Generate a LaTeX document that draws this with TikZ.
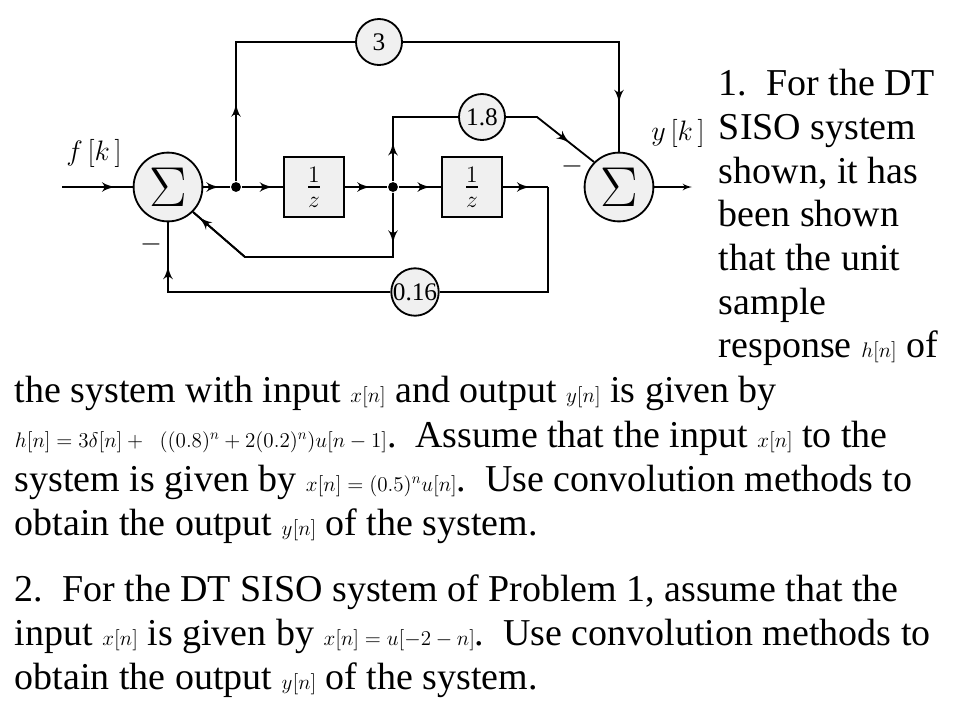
\RequirePackage{fix-cm}
\documentclass[tikz,border=0pt]{standalone}
\usepackage{amsmath}
\usepackage{fontspec}
\setmainfont{Liberation Serif}
\usetikzlibrary{arrows,positioning,calc,decorations.markings}
\newcommand{\sm}[1]{{\fontsize{15pt}{15pt}\selectfont$#1$}}
\tikzset{
sum/.style   = {draw, fill=gray!12, circle, minimum size=1.72cm, inner sep=0pt, font=\fontsize{40pt}{40pt}\selectfont},
block/.style = {draw, fill=gray!12, rectangle, minimum size=1.5cm, font=\fontsize{24pt}{24pt}\selectfont},
gain/.style  = {draw, fill=gray!12, circle, minimum size=1.15cm, inner sep=0pt, font=\fontsize{18pt}{18pt}\selectfont},
tmp/.style   = {coordinate},
dot/.style   = {circle, fill=black, inner sep=0pt, minimum size=7pt},
mid/.style   = {postaction={decorate}, decoration={markings, mark=at position #1 with {\arrow[scale=1.4]{latex'}}}},
lbl/.style   = {font=\fontsize{20pt}{20pt}\selectfont},
txt/.style   = {anchor=base west, inner sep=0pt, font=\fontsize{27pt}{27pt}\selectfont}
}
\begin{document}
\begin{tikzpicture}[x=0.025cm, y=-0.025cm, >=latex', line width=1.3pt]
  \useasboundingbox (0,0) rectangle (979,713);
  % diagram
  \node [tmp]                 (in)    at (62,187)  {};
  \node [sum]                 (sum1)  at (168,187) {$\Sigma$};
  \node [dot]                 (j1)    at (236,187) {};
  \node [block]               (blk1)  at (314,187) {$\frac{1}{z}$};
  \node [dot]                 (j2)    at (393,187) {};
  \node [block]               (blk2)  at (472,187) {$\frac{1}{z}$};
  \node [tmp]                 (tmp1)  at (548,187) {};
  \node [sum]                 (sum2)  at (619,187) {$\Sigma$};
  \node [tmp]                 (out)   at (692,187) {};
  \node [tmp]                 (tmp2)  at (236,42)  {};
  \node [gain]                (g3)    at (379,42)  {3};
  \node [tmp]                 (tmp3)  at (619,42)  {};
  \node [tmp]                 (tmp4)  at (393,117) {};
  \node [gain]                (g18)   at (482,117) {1.8};
  \node [tmp]                 (tmp5)  at (537,117) {};
  \node [tmp]                 (tmp6)  at (393,257) {};
  \node [tmp]                 (tmp7)  at (245,257) {};
  \node [tmp]                 (tmp8)  at (548,292) {};
  \node [gain]                (g016)  at (415,292) {0.16};
  \node [tmp]                 (tmp9)  at (168,292) {};

  \draw [mid=0.75] (in) -- (sum1);
  \draw [mid=0.6] (sum1) -- (j1);
  \draw [mid=0.75] (j1) -- (blk1);
  \draw [mid=0.6] (blk1) -- (j2);
  \draw [mid=0.75] (j2) -- (blk2);
  \draw [mid=0.6] (blk2) -- (tmp1);
  \draw [-{latex'[scale=1.4]}] (sum2) -- (out);
  \draw [mid=0.3] (j1) -- (tmp2) -- (g3);
  \draw [mid=0.85] (g3) -- (tmp3) -- (sum2);
  \draw [mid=0.3] (j2) -- (tmp4) -- (g18);
  \draw [mid=0.7] (g18) -- (tmp5) -- (sum2.135);
  \draw [mid=0.18] (j2) -- (tmp6) -- (tmp7) -- (sum1.-45);
  \draw [mid=0.88] (tmp7) -- (sum1.-45);
  \draw (tmp1) -- (tmp8) -- (g016);
  \draw [mid=0.85] (g016) -- (tmp9) -- (sum1);
  \node [lbl] (fk) at (94,153) {$f\,[k\,]$};
  \node [lbl] (yk) at (678,133) {$y\,[k\,]$};
  \node [lbl] (m1) at (151,244) {$-$};
  \node [lbl] (m2) at (572,166) {$-$};

  % text
  \node [txt] (l1)  at (718,95)  {1.\enspace For the DT};
  \node [txt] (l2)  at (718,139) {SISO system};
  \node [txt] (l3)  at (718,183) {shown, it has};
  \node [txt] (l4)  at (718,226) {been shown};
  \node [txt] (l5)  at (718,270) {that the unit};
  \node [txt] (l6)  at (718,314) {sample};
  \node [txt] (l7)  at (718,357) {response \sm{h[n]} of};
  \node [txt] (l8)  at (14,402)  {the system with input \sm{x[n]} and output \sm{y[n]} is given by};
  \node [txt] (l9)  at (14,447)  {\sm{h[n]=3\delta[n]+\;\;((0.8)^n+2(0.2)^n)u[n-1]}.\enspace Assume that the input \sm{x[n]} to the};
  \node [txt] (l10) at (14,491)  {system is given by \sm{x[n]=(0.5)^n u[n]}.\enspace Use convolution methods to};
  \node [txt] (l11) at (14,535)  {obtain the output \sm{y[n]} of the system.};
  \node [txt] (l12) at (14,601)  {2.\enspace For the DT SISO system of Problem 1, assume that the};
  \node [txt] (l13) at (14,645)  {input \sm{x[n]} is given by \sm{x[n]=u[-2-n]}.\enspace Use convolution methods to};
  \node [txt] (l14) at (14,689)  {obtain the output \sm{y[n]} of the system.};
\end{tikzpicture}
\end{document}
